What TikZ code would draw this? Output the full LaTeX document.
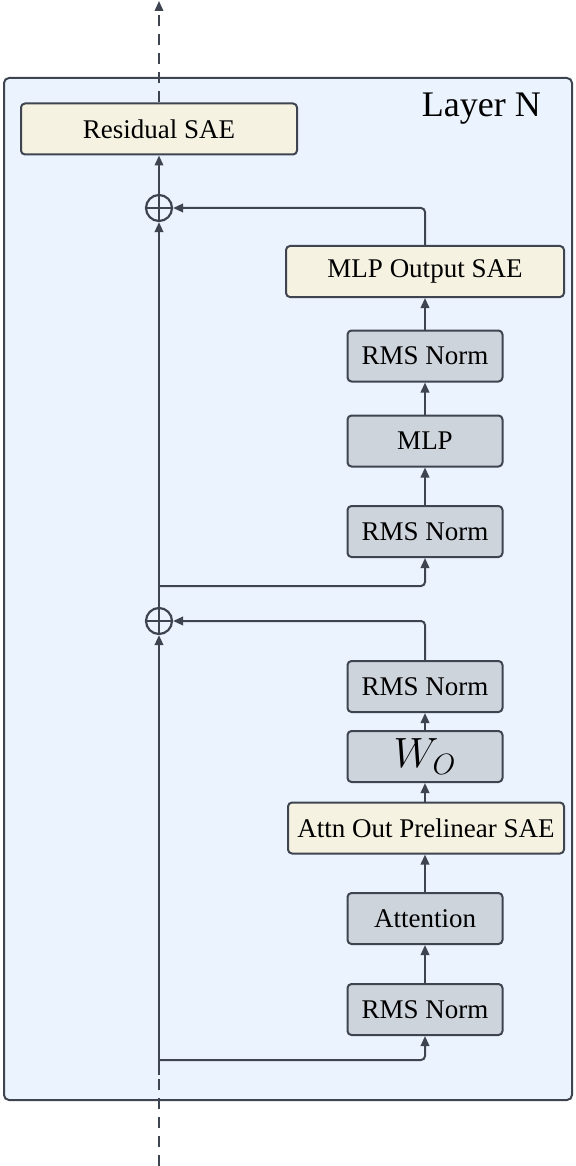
\documentclass[tikz,border=0pt]{standalone}
\usepackage{fontspec}
\setmainfont{Liberation Serif}
\usetikzlibrary{arrows.meta}
\definecolor{ln}{HTML}{3E4550}
\definecolor{bg}{HTML}{EBF3FE}
\definecolor{sae}{HTML}{F5F2E1}
\definecolor{gbox}{HTML}{CED4DC}
\begin{document}
\begin{tikzpicture}[x=1pt,y=-1pt,
  box/.style={draw=ln, line width=2pt, rounded corners=4pt, inner sep=0pt,
    font=\fontsize{27}{32}\selectfont, text=black},
  saebox/.style={box, fill=sae, minimum height=51pt},
  greybox/.style={box, fill=gbox, minimum width=155pt, minimum height=51pt},
  plus/.style={circle, draw=ln, line width=2.2pt, fill=bg, minimum size=26pt, inner sep=0pt},
  arr/.style={draw=ln, line width=2pt, -{Triangle[length=10pt,width=8.5pt]}},
  ln/.style={draw=ln, line width=2pt},
  dsh/.style={dash pattern=on 11pt off 8pt}
]
\useasboundingbox (0,0) rectangle (575,1166);
% outer layer box
\draw[draw=ln, line width=2pt, fill=bg, rounded corners=5pt] (4,78) rectangle (572,1100);
\node[anchor=base east, font=\fontsize{36}{42}\selectfont, inner sep=0pt] (title) at (541,117) {Layer N};

% nodes
\node[saebox, minimum width=276pt] (res) at (159,129) {Residual SAE};
\node[plus] (p1) at (159,208) {};
\node[saebox, minimum width=278pt] (mlpsae) at (425,271.5) {MLP Output SAE};
\node[greybox] (rms3) at (425,356) {RMS Norm};
\node[greybox] (mlp) at (425,441) {MLP};
\node[greybox] (rms2) at (425,531.5) {RMS Norm};
\node[plus] (p2) at (159,621) {};
\node[greybox] (rmsA) at (425,686.5) {RMS Norm};
\node[greybox] (wo) at (425,756.5) {\scalebox{1.7}{$W_O$}};
\node[saebox, minimum width=276pt] (attnsae) at (426,828) {Attn Out Prelinear SAE};
\node[greybox] (attn) at (425,918.5) {Attention};
\node[greybox] (rms0) at (425,1009.5) {RMS Norm};

% plus crosses
\foreach \p in {p1,p2}{
  \draw[ln] (\p.north) -- (\p.south) (\p.west) -- (\p.east);
}

% coordinates
\coordinate (in) at (159,1166);
\coordinate (bot) at (159,1075);
\coordinate (b1) at (159,1060);
\coordinate (b2) at (159,586);
\coordinate (out) at (159,1);

% connectors
\draw[ln, dsh] (in) -- (bot);
\draw[arr] (bot) -- (p2.south);
\draw[arr, rounded corners=4pt] (b1) -| (rms0.south);
\draw[arr] (rms0) -- (attn);
\draw[arr] (attn) -- (attnsae.south -| attn.north);
\draw[arr] (attnsae.north -| wo.south) -- (wo);
\draw[arr] (wo) -- (rmsA);
\draw[arr, rounded corners=4pt] (rmsA.north) |- (p2.east);
\draw[arr] (p2.north) -- (p1.south);
\draw[arr, rounded corners=4pt] (b2) -| (rms2.south);
\draw[arr] (rms2) -- (mlp);
\draw[arr] (mlp) -- (rms3);
\draw[arr] (rms3) -- (mlpsae);
\draw[arr, rounded corners=4pt] (mlpsae.north) |- (p1.east);
\draw[arr] (p1.north) -- (res.south);
\draw[arr, dsh] (res.north) -- (out);
\end{tikzpicture}
\end{document}
